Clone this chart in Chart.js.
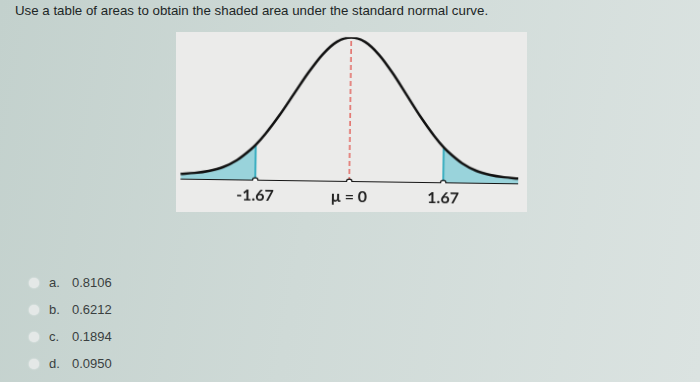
<!DOCTYPE html>
<html>
<head>
<meta charset="utf-8">
<script src="https://cdn.jsdelivr.net/npm/chart.js@4"></script>
<style>
  html, body { margin: 0; padding: 0; }
  body {
    width: 700px; height: 382px; overflow: hidden; position: relative;
    background: linear-gradient(100deg, #c3d1cd 0%, #cfdad7 45%, #dbe3e1 100%);
    font-family: "Liberation Sans", Arial, sans-serif;
  }
  #title {
    position: absolute; left: 15px; top: 3px;
    font-size: 13.3px; color: #1d2626; white-space: nowrap;
  }
  #box {
    position: absolute; left: 176px; top: 32px; width: 351px; height: 180px;
    background: #ebebea; overflow: hidden;
  }
  #normalChart { transform: rotate(0.8deg); }
  .choice {
    position: absolute; left: 29px; font-size: 13px; color: #3a3f3f;
    height: 14px; line-height: 14px;
  }
  .choice .dot {
    position: absolute; left: 0; top: 2px; width: 10px; height: 10px;
    border-radius: 50%; background: #e4e8e7; box-shadow: 0 0 2px #f4f6f6;
  }
  .choice .lbl { position: absolute; left: 20px; }
  .choice .val { position: absolute; left: 43px; }
</style>
</head>
<body>
<div id="title">Use a table of areas to obtain the shaded area under the standard normal curve.</div>
<div id="box"><canvas id="normalChart" width="351" height="180"></canvas></div>
<div id="choices"></div>
<script>
const zValues = [-3, -2.75, -2.5, -2.25, -2, -1.75, -1.67, -1.5, -1.25, -1, -0.75, -0.5, -0.25, 0,
  0.25, 0.5, 0.75, 1, 1.25, 1.5, 1.67, 1.75, 2, 2.25, 2.5, 2.75, 3];
const density = [0.016, 0.019, 0.025, 0.036, 0.056, 0.087, 0.099, 0.130, 0.183, 0.242, 0.301, 0.352, 0.387, 0.399,
  0.387, 0.352, 0.301, 0.242, 0.183, 0.130, 0.099, 0.087, 0.056, 0.036, 0.025, 0.019, 0.016];
const cutoffs = [-1.67, 0, 1.67];
const tickLabels = ["-1.67", "\u03bc = 0", "1.67"];
const choiceLetters = ["a.", "b.", "c.", "d."];
const choiceValues = ["0.8106", "0.6212", "0.1894", "0.0950"];

// answer list
const choicesBox = document.getElementById("choices");
choiceLetters.forEach((letter, i) => {
  const row = document.createElement("div");
  row.className = "choice";
  row.style.top = (276 + i * 27) + "px";
  row.innerHTML = '<span class="dot"></span><span class="lbl">' + letter +
    '</span><span class="val">' + choiceValues[i] + "</span>";
  choicesBox.appendChild(row);
});

const curve = zValues.map((z, i) => ({ x: z, y: density[i] }));
const leftTail = curve.filter((p) => p.x <= cutoffs[0]);
const rightTail = curve.filter((p) => p.x >= cutoffs[2]);
const peak = density[zValues.indexOf(0)];
const edgeHeight = density[zValues.indexOf(cutoffs[2])];

const shade = "rgba(125, 203, 214, 0.75)";
const edge = "#3aaec0";

const ctx = document.getElementById("normalChart").getContext("2d");
// eslint-disable-next-line no-undef
const normalChart = new Chart(ctx, {
  type: "line",
  data: {
    datasets: [
      {
        data: leftTail, fill: "origin", backgroundColor: shade,
        borderWidth: 0, pointRadius: 0, cubicInterpolationMode: "monotone", order: 6,
      },
      {
        data: rightTail, fill: "origin", backgroundColor: shade,
        borderWidth: 0, pointRadius: 0, cubicInterpolationMode: "monotone", order: 6,
      },
      {
        data: [{ x: cutoffs[0], y: 0 }, { x: cutoffs[0], y: edgeHeight }],
        borderColor: edge, borderWidth: 2, pointRadius: 0, order: 5,
      },
      {
        data: [{ x: cutoffs[2], y: 0 }, { x: cutoffs[2], y: edgeHeight }],
        borderColor: edge, borderWidth: 2, pointRadius: 0, order: 5,
      },
      {
        data: [{ x: 0, y: 0 }, { x: 0, y: peak }],
        borderColor: "#e0504a", borderWidth: 1.3, borderDash: [5, 3], pointRadius: 0, order: 4,
      },
      {
        data: [{ x: zValues[0], y: 0 }, { x: zValues[zValues.length - 1], y: 0 }],
        borderColor: "#141414", borderWidth: 2, pointRadius: 0, order: 3,
      },
      {
        data: curve, borderColor: "#111111", borderWidth: 2.5, pointRadius: 0,
        cubicInterpolationMode: "monotone", fill: false, order: 2,
      },
      {
        data: cutoffs.map((c) => ({ x: c, y: 0 })),
        showLine: false, pointRadius: 2.8, pointBackgroundColor: "#ffffff",
        pointBorderColor: "#141414", pointBorderWidth: 1.2, order: 1,
      },
    ],
  },
  options: {
    responsive: false,
    animation: false,
    layout: { padding: { left: 0, right: 8, top: 1, bottom: 0 } },
    plugins: { legend: { display: false }, tooltip: { enabled: false } },
    scales: {
      x: {
        type: "linear", min: -3, max: 3,
        grid: { display: false, drawTicks: false }, border: { display: false },
        afterBuildTicks: (scale) => { scale.ticks = cutoffs.map((c) => ({ value: c })); },
        afterFit: (scale) => { scale.height = 30; },
        ticks: {
          autoSkip: false, maxRotation: 0, padding: 5, color: "#222222",
          font: { family: "Lato", size: 16, weight: "bold" },
          callback: (value) => tickLabels[cutoffs.indexOf(value)],
        },
      },
      y: { display: false, min: 0, max: 0.4 },
    },
  },
});
</script>
</body>
</html>
